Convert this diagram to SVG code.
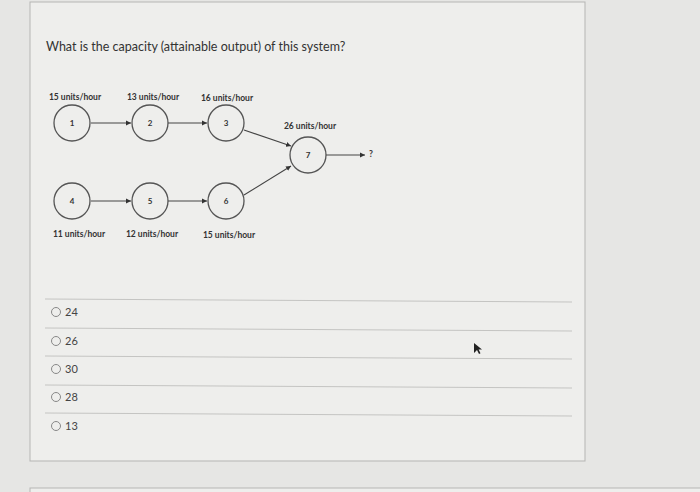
<svg xmlns="http://www.w3.org/2000/svg" width="700" height="492" viewBox="0 0 700 492">
<style>
.node circle{fill:none;stroke:#555;stroke-width:1.3}
.num{font-family:Lato,"Liberation Sans",sans-serif;font-size:8px;font-weight:bold;fill:#333;text-anchor:middle}
.lbl{font-family:Lato,"Liberation Sans",sans-serif;font-size:8.5px;font-weight:bold;fill:#333;text-anchor:middle}
.edge{stroke:#444;stroke-width:1.1;fill:none;marker-end:url(#ah)}
.sep{stroke:#c4c4c2;stroke-width:1}
.radio{fill:none;stroke:#888;stroke-width:1}
.opt{font-family:Lato,"Liberation Sans",sans-serif;font-size:11px;fill:#444}
</style>
<defs>
<marker id="ah" markerWidth="6" markerHeight="6" refX="5" refY="3" orient="auto" markerUnits="userSpaceOnUse">
<path d="M0,0.5 L5,3 L0,5.5 z" fill="#333"/>
</marker>
</defs>
<rect x="0" y="0" width="700" height="492" fill="#e6e6e4"/>
<rect x="30" y="2" width="555" height="459" fill="#eeeeec" stroke="#b5b5b3" stroke-width="1"/>
<rect x="30" y="488" width="680" height="10" fill="#eeeeec" stroke="#b5b5b3" stroke-width="1"/>
<text x="46" y="51" font-family="Lato,'Liberation Sans',sans-serif" font-size="12.5" fill="#333">What is the capacity (attainable output) of this system?</text>

<g id="connectors">
<line class="edge" x1="91" y1="123" x2="131" y2="123"/>
<line class="edge" x1="168" y1="123" x2="207" y2="123"/>
<line class="edge" x1="244" y1="130" x2="291" y2="146"/>
<line class="edge" x1="91" y1="201" x2="131" y2="201"/>
<line class="edge" x1="168" y1="201" x2="207" y2="201"/>
<line class="edge" x1="244" y1="195" x2="291" y2="166"/>
<line class="edge" x1="326" y1="155" x2="365" y2="155"/>
</g>

<g id="n1" class="node"><circle cx="72" cy="123" r="18"/><text class="num" x="72" y="126">1</text><text class="lbl" x="75" y="100">15 units/hour</text></g>
<g id="n2" class="node"><circle cx="150" cy="123" r="18"/><text class="num" x="150" y="126">2</text><text class="lbl" x="153" y="100">13 units/hour</text></g>
<g id="n3" class="node"><circle cx="226" cy="123" r="18"/><text class="num" x="226" y="126">3</text><text class="lbl" x="227" y="101">16 units/hour</text></g>
<g id="n7" class="node"><circle cx="308" cy="155" r="18"/><text class="num" x="308" y="158">7</text><text class="lbl" x="310" y="129">26 units/hour</text></g>
<g id="n4" class="node"><circle cx="72" cy="201" r="18"/><text class="num" x="72" y="204">4</text><text class="lbl" x="79" y="237">11 units/hour</text></g>
<g id="n5" class="node"><circle cx="150" cy="201" r="18"/><text class="num" x="150" y="204">5</text><text class="lbl" x="152" y="237">12 units/hour</text></g>
<g id="n6" class="node"><circle cx="226" cy="201" r="18"/><text class="num" x="226" y="204">6</text><text class="lbl" x="229" y="238">15 units/hour</text></g>
<g id="out"><text class="lbl" x="371" y="157">?</text></g>

<line class="sep" x1="45" y1="299" x2="572" y2="302"/>
<line class="sep" x1="45" y1="328" x2="572" y2="331"/>
<line class="sep" x1="45" y1="356" x2="572" y2="359"/>
<line class="sep" x1="45" y1="385" x2="572" y2="388"/>
<line class="sep" x1="45" y1="413" x2="572" y2="416"/>
<circle class="radio" cx="56" cy="312" r="4.5"/><text class="opt" x="65" y="316">24</text>
<circle class="radio" cx="56" cy="341" r="4.5"/><text class="opt" x="65" y="345">26</text>
<circle class="radio" cx="56" cy="369" r="4.5"/><text class="opt" x="65" y="373">30</text>
<circle class="radio" cx="56" cy="397" r="4.5"/><text class="opt" x="65" y="401">28</text>
<circle class="radio" cx="56" cy="426" r="4.5"/><text class="opt" x="65" y="430">13</text>
<path d="M474,343 L474,353 L477,350 L479,354 L480.5,353.3 L478.6,349.6 L482,349.4 z" fill="#222"/>
</svg>
